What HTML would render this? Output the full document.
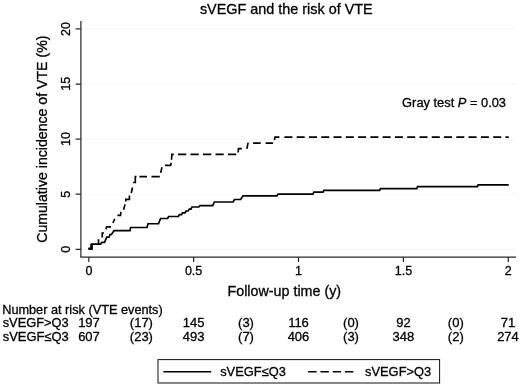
<!DOCTYPE html>
<html><head><meta charset="utf-8">
<style>
html,body{margin:0;padding:0;background:#fff;}
body{width:520px;height:384px;overflow:hidden;}
svg{display:block;}
text{font-family:"Liberation Sans",sans-serif;fill:#000;stroke:#000;stroke-width:0.3px;}
</style></head><body>
<svg width="520" height="384" viewBox="0 0 520 384">
<rect width="520" height="384" fill="#fff"/>
<!-- gridlines -->
<g stroke="#f6f6f6" stroke-width="1">
<line x1="81" x2="516" y1="28.9" y2="28.9"/>
<line x1="81" x2="516" y1="84" y2="84"/>
<line x1="81" x2="516" y1="139.1" y2="139.1"/>
<line x1="81" x2="516" y1="194.2" y2="194.2"/>
<line x1="81" x2="516" y1="249.3" y2="249.3"/>
</g>
<!-- axes -->
<g stroke="#2a2a2a" stroke-width="1.25" fill="none">
<path d="M80.9 21 V257.1"/>
<path d="M80.3 257.1 H516"/>
<path d="M75.6 28.9H80.9 M75.6 84H80.9 M75.6 139.1H80.9 M75.6 194.2H80.9 M75.6 249.3H80.9"/>
<path d="M88.8 257.1V262 M193.65 257.1V262 M298.5 257.1V262 M403.4 257.1V262 M508.25 257.1V262"/>
</g>
<text x="286.3" y="13.5" font-size="14.4" text-anchor="middle">sVEGF and the risk of VTE</text>
<text transform="translate(47.1,139.2) rotate(-90)" font-size="14.13" text-anchor="middle">Cumulative incidence of VTE (%)</text>
<g font-size="12.5" text-anchor="middle">
<text transform="translate(69.7,29) rotate(-90)">20</text>
<text transform="translate(69.7,83.8) rotate(-90)">15</text>
<text transform="translate(69.7,139) rotate(-90)">10</text>
<text transform="translate(69.7,194.2) rotate(-90)">5</text>
<text transform="translate(69.7,249.2) rotate(-90)">0</text>
<text x="89" y="274.6">0</text>
<text x="193.6" y="274.6">0.5</text>
<text x="298.5" y="274.6">1</text>
<text x="403.4" y="274.6">1.5</text>
<text x="508.25" y="274.6">2</text>
</g>
<text x="284.3" y="296.4" font-size="14.3" text-anchor="middle">Follow-up time (y)</text>
<text x="506" y="107.1" font-size="12.85" text-anchor="end">Gray test <tspan font-style="italic">P</tspan> = 0.03</text>
<!-- curves -->
<path id="solid" fill="none" stroke="#000" stroke-width="1.7" stroke-linejoin="miter" d="M88.4 249 H91.5 V244.1 H100.6 L101.8 242.3 H104.5 L106.7 237.2 H109 L110 234.5 H111.5 L114 230.6 H130 L130.6 227.5 H147 L148 223.75 H158.5 L160.6 218.5 H167.6 L168.6 216.5 H178.4 L179.4 214.7 H181.6 L182.5 212.8 H185 L186.2 211 H188.1 L189.3 209.1 H191 L192 207 H198.75 L200 205.6 H212.7 L214.4 202 H233 L234.5 199.5 H240.6 L243 195.9 H277 L278 194.05 H312.9 L313.8 192.2 H323 L323.9 190.4 H379.6 L380.5 188.6 H416.8 L417.6 186.6 H477.4 L478.2 184.8 H508.75"/>
<g id="dash" fill="none" stroke="#000" stroke-width="1.65">
<path d="M98.5 244.1 V239.2 M102.25 237.5 V233 H104 M106 229.4 L106.6 226.9 H111 M112.9 223 L114.75 218.75 M117.4 215.4 H120.5 L120.9 211.9 M123.6 209.7 L125 204.4 M125.8 201.5 V199.4 H129.4 V195.6 M131.25 193 L132.5 187.5 M133.1 182.5 H135.3 V176.6 H136.5 M139.4 176.6 H147 M151.5 176.6 H159.8 M160.6 172.9 L162 167.25 M165 165.4 H170.6 L171.25 162.9 M171.5 159.75 L171.9 154.4 H173.75 M238.1 152.5 L238.5 148.6 H241.9 M246.9 148.75 L248.1 142.6 M253.1 143.1 H260.7 M265.6 143.1 H273.1 M274.4 140 L275 137.1 H279.4"/>
<path d="M178 154.4 H236.2" stroke-dasharray="8.25 4.25"/>
<path d="M284.4 137.1 H508.75" stroke-dasharray="8 4.28"/>
</g>
<path d="M88.4 248.6 H91.6 V244.1" fill="none" stroke="#000" stroke-width="2.4"/>
<!-- table -->
<g font-size="13">
<text x="2.2" y="313.5" textLength="160.5" lengthAdjust="spacingAndGlyphs">Number at risk (VTE events)</text>
<text x="2.7" y="327.2" textLength="66" lengthAdjust="spacingAndGlyphs">sVEGF&gt;Q3</text>
<text x="2.7" y="341.3" textLength="66" lengthAdjust="spacingAndGlyphs">sVEGF≤Q3</text>
<g text-anchor="middle">
<text x="89" y="327.2">197</text><text x="141.4" y="327.2">(17)</text><text x="193.6" y="327.2">145</text><text x="246" y="327.2">(3)</text><text x="298.5" y="327.2">116</text><text x="351" y="327.2">(0)</text><text x="403.4" y="327.2">92</text><text x="455.8" y="327.2">(0)</text><text x="508" y="327.2">71</text>
<text x="89" y="341.3">607</text><text x="141.4" y="341.3">(23)</text><text x="193.6" y="341.3">493</text><text x="246" y="341.3">(7)</text><text x="298.5" y="341.3">406</text><text x="351" y="341.3">(3)</text><text x="403.4" y="341.3">348</text><text x="455.8" y="341.3">(2)</text><text x="508" y="341.3">274</text>
</g>
</g>
<!-- legend -->
<rect x="158" y="359.6" width="281.6" height="23.4" fill="#fff" stroke="#111" stroke-width="1"/>
<path d="M163.4 371.7H211.2" stroke="#000" stroke-width="1.65"/>
<text x="220.2" y="376" font-size="13" textLength="65.6" lengthAdjust="spacingAndGlyphs">sVEGF≤Q3</text>
<path d="M308.2 371.7H353.4" stroke="#000" stroke-width="1.6" stroke-dasharray="8.4 3.85"/>
<text x="365" y="376" font-size="13" textLength="66.2" lengthAdjust="spacingAndGlyphs">sVEGF&gt;Q3</text>
</svg>
</body></html>
